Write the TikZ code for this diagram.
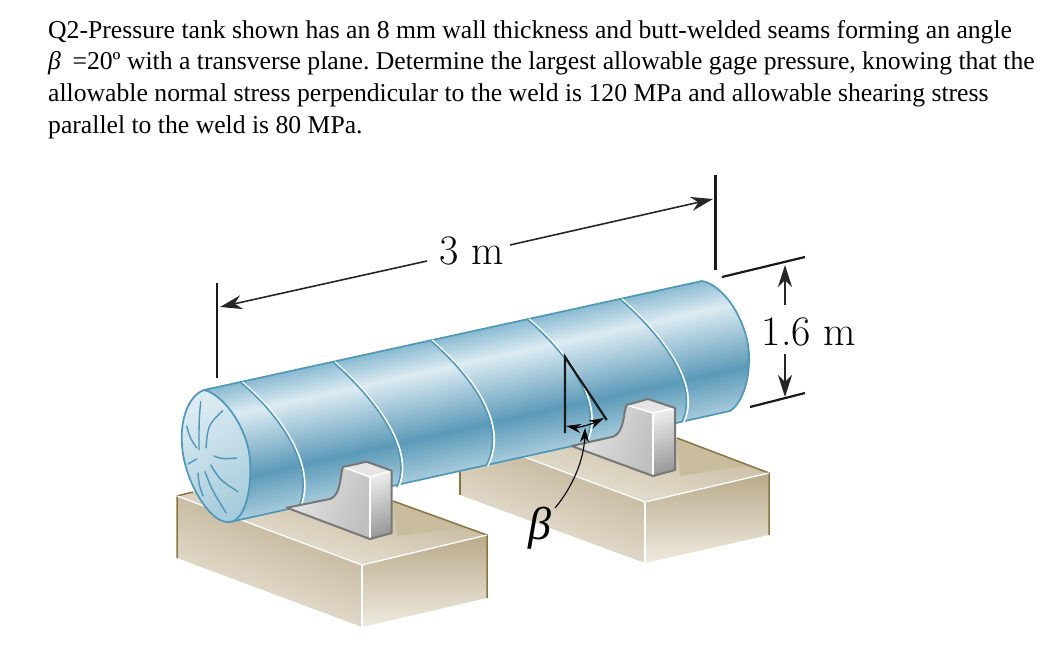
\documentclass[tikz,border=0pt]{standalone}
\usepackage{fontspec}
\usepackage{tikz}
\usetikzlibrary{arrows.meta}
\newfontfamily\stemfont{Liberation Serif}
\definecolor{tankblue}{HTML}{4F97B8}
\definecolor{tanktop}{HTML}{8BBBD2}
\definecolor{tanklight}{HTML}{DCEBF2}
\definecolor{tankdark}{HTML}{5C9AB9}
\definecolor{tankbottom}{HTML}{A6CBDB}
\definecolor{blockedge}{HTML}{8A7440}
\definecolor{blockdark}{HTML}{B9AA8A}
\definecolor{blockmid}{HTML}{C8BB9E}
\definecolor{blocklight}{HTML}{EFEADF}
\definecolor{postedge}{HTML}{777777}
\pgfdeclareverticalshading{tankshade}{100bp}{color(0bp)=(tankbottom); color(25bp)=(tankbottom); color(40bp)=(tankdark); color(64bp)=(tanklight); color(75bp)=(tanktop); color(100bp)=(tanktop)}
\tikzset{
	dimline/.style={line width=1.6pt,black!85,-{Stealth[length=22pt,width=14pt,inset=7pt]}},
	tickline/.style={line width=2.2pt,black!90},
	seamblue/.style={line width=1.5pt,tankblue},
	seamwhite/.style={line width=1.8pt,white},
	capmark/.style={line width=1.4pt,tankblue,line cap=round},
	blockwhite/.style={line width=1.3pt,white},
	blockline/.style={line width=1.5pt,blockedge},
	postline/.style={line width=2pt,postedge,line join=round},
	dimlabel/.style={inner sep=3pt,font=\fontsize{42}{44}\selectfont\addfontfeature{FakeBold=0.3}},
	anglemark/.style={line width=1.2pt,{Stealth[length=15pt,width=9pt,inset=5pt]}-{Stealth[length=15pt,width=9pt,inset=5pt]}}
}
\newcommand{\tankseam}[4]{
	\draw[seamwhite,xshift=1.7pt] #1 .. controls #2 and #3 .. #4;
	\draw[seamblue] #1 .. controls #2 and #3 .. #4;
}
\begin{document}
\begin{tikzpicture}[x=1pt,y=-1pt]
	\useasboundingbox (0,0) rectangle (1050,658);
	\fill[white] (0,0) rectangle (1050,658);

	\node[anchor=north west,inner sep=0pt,align=left,font=\stemfont\fontsize{25.67}{31.7}\selectfont\frenchspacing] (question) at (48,20) {Q2-Pressure tank shown has an 8 mm wall thickness and butt-welded seams forming an angle\\[0pt]{\itshape β}\hspace{0.45em}=20º with a transverse plane. Determine the largest allowable gage pressure, knowing that the\\allowable normal stress perpendicular to the weld is 120 MPa and allowable shearing stress\\parallel to the weld is 80 MPa.};

	% right block
	\shade[top color=blockdark,bottom color=blocklight,shading angle=-20] (460,433) -- (645,502) -- (645,563) -- (460,495) -- cycle;
	\shade[top color=blockdark,bottom color=blocklight] (645,502) -- (769,473) -- (769,535) -- (645,563) -- cycle;
	\shade[top color=blockdark,bottom color=blocklight,shading angle=-15] (460,433) -- (600,400) -- (677,438) -- (769,473) -- (645,502) -- cycle;
	\fill[blockmid] (677,438) -- (769,473) -- (743,466) -- (680,476) -- cycle;
	\draw[blockline] (460,495) -- (460,450);
	\draw[blockline] (677,438) -- (769,473) -- (769,535);
	\draw[blockwhite] (460,433) -- (645,502) -- (769,473);
	\draw[blockwhite] (645,502) -- (645,563);

	% left block
	\shade[top color=blockdark,bottom color=blocklight,shading angle=-20] (177,496) -- (362,565) -- (362,627) -- (177,558) -- cycle;
	\shade[top color=blockdark,bottom color=blocklight] (362,565) -- (487,535) -- (487,598) -- (362,627) -- cycle;
	\shade[top color=blockdark,bottom color=blocklight,shading angle=-15] (177,496) -- (193,492) -- (300,470) -- (393,501) -- (487,535) -- (362,565) -- cycle;
	\fill[blockmid] (393,501) -- (487,535) -- (460,528) -- (397,536) -- cycle;
	\draw[blockline] (177,558) -- (177,496) -- (193,492);
	\draw[blockline] (393,501) -- (487,535) -- (487,598);
	\draw[blockwhite] (177,496) -- (362,565) -- (487,535);
	\draw[blockwhite] (362,565) -- (362,627);

	% tank
	\begin{scope}
		\clip (204,390) -- (702,281) .. controls (725,285) and (750,325) .. (749,360) .. controls (749,385) and (740,405) .. (730,411) -- (230,522) -- cycle;
		\shade[transform canvas={shift={(466,401)},rotate=12.4},shading=tankshade] (-340,-66.5) rectangle (340,66.5);
	\end{scope}
	\draw[line width=1.7pt,tankblue,line join=round] (204,390) -- (702,281) .. controls (725,285) and (750,325) .. (749,360) .. controls (749,385) and (740,405) .. (730,411) -- (230,522);
	\tankseam{(240.7,382.5)}{(272,408)}{(315,460)}{(300,504)}
	\tankseam{(333,362)}{(365,390)}{(415,445)}{(397,487)}
	\tankseam{(430,340)}{(462,368)}{(510,420)}{(486,466)}
	\tankseam{(527,319)}{(560,347)}{(606,400)}{(585,443)}
	\tankseam{(620,299)}{(650,325)}{(702,380)}{(682,422)}

	% end cap
	\shade[top color=tanklight,bottom color=tankbottom,shading angle=30] (204,390) .. controls (188,396) and (180,420) .. (182,445) .. controls (184,480) and (210,525) .. (230,522) .. controls (245,520) and (252,490) .. (250,460) .. controls (248,430) and (225,395) .. (204,390) -- cycle;
	\draw[line width=1.7pt,tankblue] (204,390) .. controls (188,396) and (180,420) .. (182,445) .. controls (184,480) and (210,525) .. (230,522) .. controls (245,520) and (252,490) .. (250,460) .. controls (248,430) and (225,395) .. (204,390) -- cycle;
	\draw[capmark] (200.7,401.7) .. controls (199,420) .. (199,450);
	\draw[capmark] (222.7,410.7) .. controls (208,425) .. (206,448);
	\draw[capmark] (186.7,426) .. controls (190,438) .. (196.7,448);
	\draw[capmark] (214,456) .. controls (222,459) .. (236.7,458);
	\draw[capmark] (188,464) -- (196.7,459);
	\draw[capmark] (210.7,465) .. controls (220,480) .. (238,491.7);
	\draw[capmark] (198,473) .. controls (199,485) .. (203,496);
	\draw[capmark] (205,471.7) .. controls (212,490) .. (226,512.7);

	% left post
	\shade[top color=black!10,bottom color=black!25,shading angle=70] (286.7,507.7) -- (330,499) .. controls (342,495) and (340,472) .. (343,467) -- (370,477) -- (370,539) -- cycle;
	\shade[top color=black!8,bottom color=black!40,shading angle=20] (370,477) -- (391.7,470.7) -- (391.7,533) -- (370,539) -- cycle;
	\fill[black!10] (343,467) -- (366.7,461.7) -- (391.7,470.7) -- (370,477) -- cycle;
	\draw[line width=1.6pt,white] (343,467) -- (370,477) -- (391.7,470.7) (370,477) -- (370,538);
	\draw[postline] (286.7,507.7) -- (330,499) .. controls (342,495) and (340,472) .. (343,467) -- (366.7,461.7) -- (391.7,470.7) -- (391.7,533) -- (370,539) -- cycle;

	% right post
	\shade[top color=black!10,bottom color=black!25,shading angle=70] (571.7,446) -- (613,436.7) .. controls (625,432) and (623,412) .. (626.7,405) -- (653,413) -- (653,476) -- cycle;
	\shade[top color=black!8,bottom color=black!40,shading angle=20] (653,413) -- (675,408) -- (675,470) -- (653,476) -- cycle;
	\fill[black!10] (626.7,405) -- (648,399) -- (675,408) -- (653,413) -- cycle;
	\draw[line width=1.6pt,white] (626.7,405) -- (653,413) -- (675,408) (653,413) -- (653,475);
	\draw[postline] (571.7,446) -- (613,436.7) .. controls (625,432) and (623,412) .. (626.7,405) -- (648,399) -- (675,408) -- (675,470) -- (653,476) -- cycle;

	% dimensions
	\coordinate (lenL1) at (217,283);
	\coordinate (lenL2) at (217,378);
	\coordinate (lenR1) at (715,175);
	\coordinate (lenR2) at (715,270);
	\coordinate (lenTipL) at (220,307);
	\coordinate (lenTipR) at (713,199);
	\coordinate (lenFromL) at (427,261);
	\coordinate (lenFromR) at (510,245);
	\node[dimlabel] (lenlabel) at (472,251) {3 m};
	\draw[tickline] (lenL1) -- (lenL2);
	\draw[line width=3pt,black!90] (lenR1) -- (lenR2);
	\draw[dimline] (lenFromL) -- (lenTipL);
	\draw[dimline] (lenFromR) -- (lenTipR);

	\coordinate (diaT1) at (722,277);
	\coordinate (diaT2) at (805,257);
	\coordinate (diaB1) at (750,407);
	\coordinate (diaB2) at (805,393);
	\coordinate (diaUp1) at (785,305);
	\coordinate (diaUp2) at (785,265);
	\coordinate (diaDn1) at (785,354);
	\coordinate (diaDn2) at (785,397);
	\node[dimlabel] (dialabel) at (809,332) {1.6 m};
	\draw[tickline] (diaT1) -- (diaT2);
	\draw[tickline] (diaB1) -- (diaB2);
	\draw[dimline] (diaUp1) -- (diaUp2);
	\draw[dimline] (diaDn1) -- (diaDn2);

	% seam angle
	\coordinate (angA) at (565,356.7);
	\coordinate (angB) at (565,433);
	\coordinate (angC) at (606.7,420);
	\coordinate (angL) at (566,426);
	\coordinate (angR) at (604,418);
	\coordinate (betaTip) at (585,428);
	\coordinate (betaEnd) at (555,508);
	\node[inner sep=0pt,font=\stemfont\itshape\fontsize{46}{48}\selectfont] (betalabel) at (540,528) {β};
	\draw[line width=2.2pt,black!90,line join=miter] (angB) -- (angA) -- (angC);
	\draw[anglemark] (angL) .. controls (578,428) and (592,424) .. (angR);
	\draw[line width=1.1pt,-{Stealth[length=14pt,width=9pt,inset=4pt]}] (betaEnd) .. controls (572,488) and (584,460) .. (betaTip);
\end{tikzpicture}
\end{document}
